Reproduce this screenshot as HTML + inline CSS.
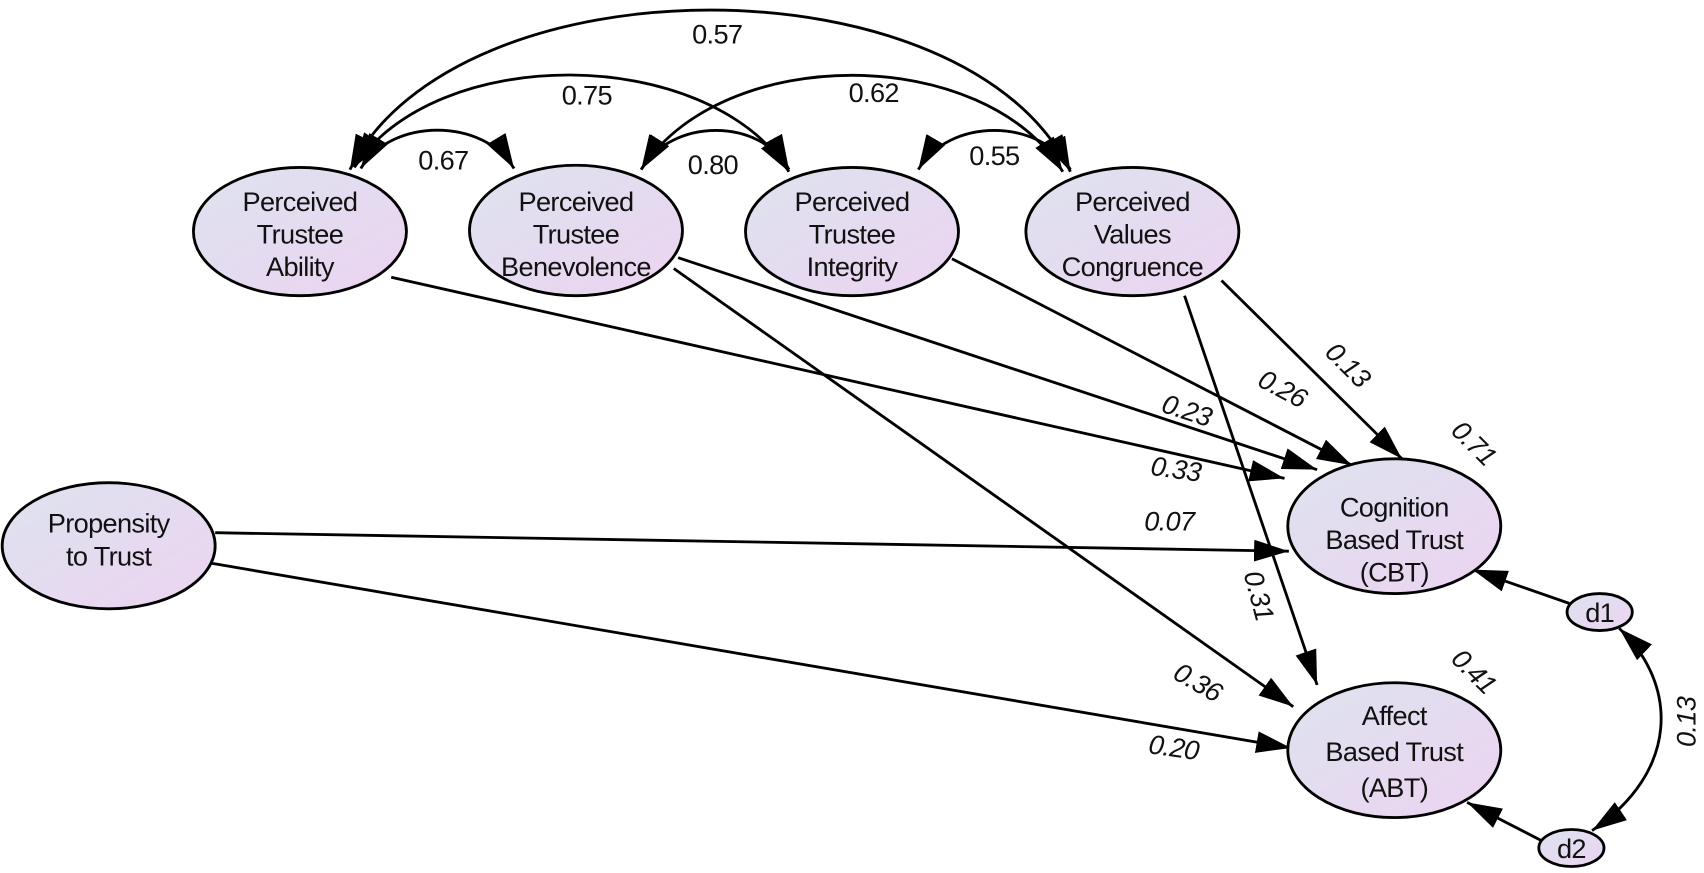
<!DOCTYPE html>
<html><head><meta charset="utf-8"><style>
html,body{margin:0;padding:0;background:#fff;width:1704px;height:873px;overflow:hidden}
text{font-family:"Liberation Sans",Arial,sans-serif;font-size:25px;fill:#111}
.it{font-style:italic}
</style></head><body>
<svg width="1704" height="873" viewBox="0 0 1568 803" preserveAspectRatio="none" xmlns="http://www.w3.org/2000/svg">
<defs>
<linearGradient id="g" x1="0" y1="0" x2="1" y2="1">
<stop offset="0" stop-color="#dde3ee"/><stop offset="1" stop-color="#ecd3f1"/>
</linearGradient>
<marker id="a" viewBox="0 0 16 10" refX="16" refY="5" markerWidth="32" markerHeight="20" markerUnits="userSpaceOnUse" orient="auto-start-reverse">
<path d="M0,0 L16,5 L0,10 z" fill="#000"/></marker>
</defs>
<g fill="none" stroke="#000" stroke-width="2.6">
<path d="M322,156 C420,-40 890,-40 985,158" marker-start="url(#a)" marker-end="url(#a)"/>
<path d="M326,154 C400,40 650,40 726,158" marker-start="url(#a)" marker-end="url(#a)"/>
<path d="M590,156 C665,40 905,40 978,158" marker-start="url(#a)" marker-end="url(#a)"/>
<path d="M332,155 C360,108 445,108 473,155" marker-start="url(#a)" marker-end="url(#a)"/>
<path d="M590,156 C618,108 700,108 726,156" marker-start="url(#a)" marker-end="url(#a)"/>
<path d="M845,156 C873,108 957,108 985,156" marker-start="url(#a)" marker-end="url(#a)"/>
<path d="M1490,578 C1545,630 1545,710 1465,764" marker-start="url(#a)" marker-end="url(#a)"/>
<path d="M360,255 L1182,440" marker-end="url(#a)"/>
<path d="M624,237 L1212,432" marker-end="url(#a)"/>
<path d="M620,247 L1190,650" marker-end="url(#a)"/>
<path d="M876,238 L1244,428" marker-end="url(#a)"/>
<path d="M1124,258 L1290,422" marker-end="url(#a)"/>
<path d="M1090,272 L1212,630" marker-end="url(#a)"/>
<path d="M198,490 L1186,507" marker-end="url(#a)"/>
<path d="M194,518 L1188,688" marker-end="url(#a)"/>
<path d="M1444,555 L1355,524" marker-end="url(#a)"/>
<path d="M1420,774 L1350,738" marker-end="url(#a)"/>
</g>
<g fill="url(#g)" stroke="#000" stroke-width="2.6">
<ellipse cx="276" cy="213" rx="98" ry="59"/>
<ellipse cx="530" cy="212" rx="98" ry="60"/>
<ellipse cx="784" cy="213" rx="98" ry="59"/>
<ellipse cx="1042" cy="213" rx="98" ry="59"/>
<ellipse cx="100" cy="502" rx="98" ry="58"/>
<ellipse cx="1283" cy="484" rx="98" ry="62"/>
<ellipse cx="1283" cy="690" rx="98" ry="62"/>
<ellipse cx="1472" cy="563" rx="30" ry="17"/>
<ellipse cx="1446" cy="780" rx="30" ry="17"/>
</g>
<g text-anchor="middle" letter-spacing="-0.6">
<text x="276" y="194">Perceived</text><text x="276" y="224">Trustee</text><text x="276" y="254">Ability</text>
<text x="530" y="194">Perceived</text><text x="530" y="224">Trustee</text><text x="530" y="254">Benevolence</text>
<text x="784" y="194">Perceived</text><text x="784" y="224">Trustee</text><text x="784" y="254">Integrity</text>
<text x="1042" y="194">Perceived</text><text x="1042" y="224">Values</text><text x="1042" y="254">Congruence</text>
<text x="100" y="490">Propensity</text><text x="100" y="520">to Trust</text>
<text x="1283" y="475">Cognition</text><text x="1283" y="505">Based Trust</text><text x="1283" y="535">(CBT)</text>
<text x="1283" y="667">Affect</text><text x="1283" y="700">Based Trust</text><text x="1283" y="733">(ABT)</text>
<text x="1472" y="572">d1</text><text x="1446" y="789">d2</text>
<text x="660" y="40">0.57</text>
<text x="540" y="96">0.75</text>
<text x="804" y="94">0.62</text>
<text x="408" y="156">0.67</text>
<text x="656" y="160">0.80</text>
<text x="915" y="152">0.55</text>
</g>
<g text-anchor="middle" letter-spacing="-0.6">
<text class="it" x="1082" y="440" transform="rotate(8 1082 432)">0.33</text>
<text class="it" x="1092" y="386" transform="rotate(18 1092 378)">0.23</text>
<text class="it" x="1102" y="636" transform="rotate(30 1102 628)">0.36</text>
<text class="it" x="1180" y="366" transform="rotate(28 1180 358)">0.26</text>
<text class="it" x="1240" y="344" transform="rotate(45 1240 336)">0.13</text>
<text class="it" x="1158" y="556" transform="rotate(75 1158 548)">0.31</text>
<text class="it" x="1076" y="488">0.07</text>
<text class="it" x="1080" y="696" transform="rotate(8 1080 688)">0.20</text>
<text class="it" x="1356" y="416" transform="rotate(45 1356 408)">0.71</text>
<text class="it" x="1356" y="626" transform="rotate(45 1356 618)">0.41</text>
<text class="it" x="1552" y="672" transform="rotate(-90 1552 664)">0.13</text>
</g>
</svg>
</body></html>
